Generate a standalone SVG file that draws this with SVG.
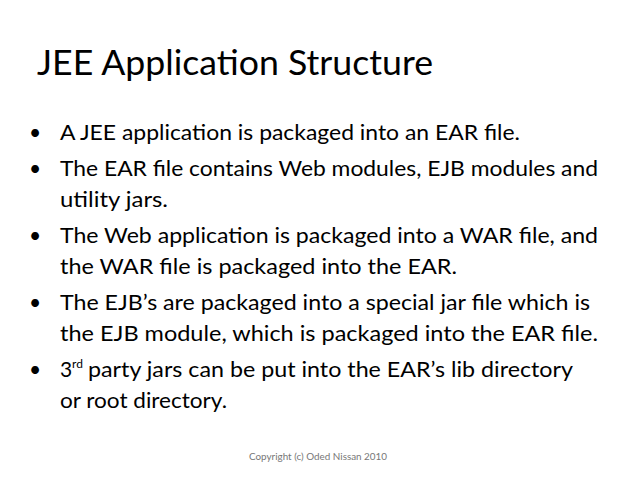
<svg xmlns="http://www.w3.org/2000/svg" width="638" height="478" viewBox="0 0 638 478">
<style>
text{font-family:Lato,"Open Sans","Liberation Sans",sans-serif;fill:#000}
.b{font-size:21px}
</style>
<rect width="638" height="478" fill="#fff"/>
<g id="title"><text x="37" y="75" font-size="34" textLength="396" lengthAdjust="spacingAndGlyphs">JEE Application Structure</text></g>
<g id="bullets" class="b">
<text class="b" x="29" y="140">•</text><text class="b" x="60" y="140" textLength="460" lengthAdjust="spacingAndGlyphs">A JEE application is packaged into an EAR file.</text>
<text class="b" x="29" y="176">•</text><text class="b" x="60" y="176" textLength="538" lengthAdjust="spacingAndGlyphs">The EAR file contains Web modules, EJB modules and</text>
<text class="b" x="60" y="207" textLength="108" lengthAdjust="spacingAndGlyphs">utility jars.</text>
<text class="b" x="29" y="243">•</text><text class="b" x="60" y="243" textLength="538" lengthAdjust="spacingAndGlyphs">The Web application is packaged into a WAR file, and</text>
<text class="b" x="60" y="274" textLength="397" lengthAdjust="spacingAndGlyphs">the WAR file is packaged into the EAR.</text>
<text class="b" x="29" y="310">•</text><text class="b" x="60" y="310" textLength="530" lengthAdjust="spacingAndGlyphs">The EJB’s are packaged into a special jar file which is</text>
<text class="b" x="60" y="341" textLength="538" lengthAdjust="spacingAndGlyphs">the EJB module, which is packaged into the EAR file.</text>
<text class="b" x="29" y="377">•</text><text class="b" x="60" y="377">3</text><text x="72" y="368" font-size="12">rd</text><text class="b" x="88" y="377" textLength="485" lengthAdjust="spacingAndGlyphs">party jars can be put into the EAR’s lib directory</text>
<text class="b" x="60" y="408" textLength="167" lengthAdjust="spacingAndGlyphs">or root directory.</text>
</g>
<g id="footer"><text x="318" y="460" font-size="10" text-anchor="middle" style="fill:#777" textLength="138" lengthAdjust="spacingAndGlyphs">Copyright (c) Oded Nissan 2010</text></g>
</svg>
